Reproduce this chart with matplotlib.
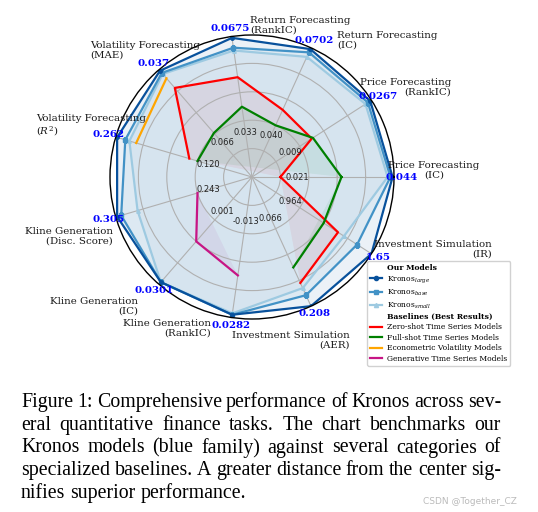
import numpy as np
import matplotlib.pyplot as plt
from matplotlib.lines import Line2D

plt.rcParams['font.family'] = 'DejaVu Serif'
plt.rcParams['mathtext.fontset'] = 'dejavuserif'

nan = np.nan

# axes, counter-clockwise from the right
categories = ["Price Forecasting\n(IC)", "Price Forecasting\n(RankIC)",
              "Return Forecasting\n(IC)", "Return Forecasting\n(RankIC)",
              "Volatility Forecasting\n(MAE)", "Volatility Forecasting\n($R^2$)",
              "Kline Generation\n(Disc. Score)", "Kline Generation\n(IC)",
              "Kline Generation\n(RankIC)", "Investment Simulation\n(AER)",
              "Investment Simulation\n(IR)"]
best_labels = ["0.044", "0.0267", "0.0702", "0.0675", "0.037", "0.262",
               "0.305", "0.0301", "0.0282", "0.208", "1.65"]
min_labels = ["0.021", "0.009", "0.040", "0.033", "0.066", "0.120",
              "0.243", "0.001", "-0.013", "0.066", "0.964"]

# normalized scores (0 = centre, 1 = outer ring)
kronos_large = [0.99, 0.99, 0.99, 0.99, 0.99, 0.99, 0.99, 0.98, 0.98, 1.0, 1.0]
kronos_base = [0.975, 0.97, 0.965, 0.92, 0.97, 0.93, 0.96, 0.98, 0.98, 0.915, 0.88]
kronos_small = [0.955, 0.95, 0.93, 0.90, 0.96, 0.90, 0.84, 0.98, 0.97, 0.86, 0.77]
zero_shot = [0.20, 0.50, 0.52, 0.71, 0.83, 0.46, nan, nan, nan, 0.82, 0.72]
full_shot = [0.63, 0.51, 0.40, 0.50, 0.41, 0.40, nan, nan, nan, 0.70, 0.60]
econometric = [nan, nan, nan, nan, 0.92, 0.85, nan, nan, nan, nan, nan]
generative = [nan, nan, nan, nan, nan, nan, 0.40, 0.60, 0.70, nan, nan]

# label anchors in pixels (x, y, alignment)
label_pos = [(434, 170, 'center'), (451, 87, 'right'), (337, 40, 'left'),
             (250, 25, 'left'), (90, 50, 'left'), (36, 126, 'left'),
             (113, 236, 'right'), (138, 306, 'right'), (211, 328, 'right'),
             (350, 340, 'right'), (492, 249, 'right')]

caption = ["Figure 1: Comprehensive performance of Kronos across sev-",
           "eral quantitative finance tasks. The chart benchmarks our",
           "Kronos models (blue family) against several categories of",
           "specialized baselines. A greater distance from the center sig-",
           "nifies superior performance."]

W, H = 538, 512
fig = plt.figure(figsize=(W / 100, H / 100), dpi=100)


def fx(x):
    return x / W


def fy(y):
    return 1 - y / H


ax = fig.add_axes([fx(252 - 142), fy(177 + 142), 284 / W, 284 / H], projection='polar')
n = len(categories)
angles = np.linspace(0, 2 * np.pi, n, endpoint=False)

ax.set_ylim(0, 1)
ax.set_xticks(angles)
ax.set_xticklabels([])
ax.set_yticks([0.2, 0.4, 0.6, 0.8])
ax.set_yticklabels([])
ax.grid(color='#b0b0b0', lw=0.8)
ax.spines['polar'].set_color('black')
ax.spines['polar'].set_linewidth(1.0)


def draw(vals, color, marker=None, lw=1.6, alpha=0.08):
    t = np.append(angles, angles[0])
    v = np.append(vals, vals[0])
    ax.fill(t, v, color=color, alpha=alpha, lw=0)
    ax.plot(t, v, color=color, lw=lw, marker=marker, ms=2.5)


draw(zero_shot, 'red')
draw(full_shot, 'green')
draw(econometric, 'orange')
draw(generative, '#c71585')
draw(kronos_small, '#9ecae1', '^')
draw(kronos_base, '#4292c6', 's')
draw(kronos_large, '#08519c', 'o')

for a, lab in zip(angles, min_labels):
    ax.text(a, 0.32, lab, ha='center', va='center', fontsize=6,
            family='DejaVu Sans', color='#222222')
for a, lab in zip(angles, best_labels):
    ax.text(a, 1.055, lab, ha='center', va='center', fontsize=7.4,
            weight='bold', color='blue')

for lab, (x, y, ha) in zip(categories, label_pos):
    fig.text(fx(x), fy(y), lab, ha=ha, va='center', multialignment=ha,
             fontsize=7.4, color='#1a1a1a', linespacing=1.1)

handles = [
    Line2D([], [], color='none', label='Our Models'),
    Line2D([], [], color='#08519c', marker='o', ms=3, lw=1.6, label='Kronos$_{large}$'),
    Line2D([], [], color='#4292c6', marker='s', ms=3, lw=1.6, label='Kronos$_{base}$'),
    Line2D([], [], color='#9ecae1', marker='^', ms=3, lw=1.6, label='Kronos$_{small}$'),
    Line2D([], [], color='none', label='Baselines (Best Results)'),
    Line2D([], [], color='red', lw=1.6, label='Zero-shot Time Series Models'),
    Line2D([], [], color='green', lw=1.6, label='Full-shot Time Series Models'),
    Line2D([], [], color='orange', lw=1.6, label='Econometric Volatility Models'),
    Line2D([], [], color='#c71585', lw=1.6, label='Generative Time Series Models'),
]
leg = fig.legend(handles=handles, loc='upper left', bbox_to_anchor=(fx(367), fy(261)),
                 fontsize=5.5, handlelength=1.6, handletextpad=0.6, labelspacing=0.32,
                 borderpad=0.4, borderaxespad=0, framealpha=0.9, edgecolor='#cccccc')
for i in (0, 4):
    leg.get_texts()[i].set_fontweight('bold')

# justified caption
renderer = fig.canvas.get_renderer()
left, right = 21, 501
cap_fs = 14.3
for i, line in enumerate(caption):
    yb = fy(407 + 22.75 * i)
    words = line.split()
    texts = [fig.text(0, yb, w, fontsize=cap_fs, family='Liberation Serif',
                      va='baseline', color='black') for w in words]
    widths = [t.get_window_extent(renderer).width for t in texts]
    if i == len(caption) - 1:
        sp = fig.text(0, 0, 'a b', fontsize=cap_fs, family='Liberation Serif')
        sw = sp.get_window_extent(renderer).width
        sp.remove()
        aw = fig.text(0, 0, 'ab', fontsize=cap_fs, family='Liberation Serif')
        gap = sw - aw.get_window_extent(renderer).width
        aw.remove()
    else:
        gap = (right - left - sum(widths)) / (len(words) - 1)
    x = left
    for t, w in zip(texts, widths):
        t.set_x(fx(x))
        x += w + gap

fig.text(fx(517), fy(501), 'CSDN @Together_CZ', ha='right', va='center',
         fontsize=6.5, family='DejaVu Sans', color='#bbbbbb')

fig.savefig('out.png', dpi=100)
